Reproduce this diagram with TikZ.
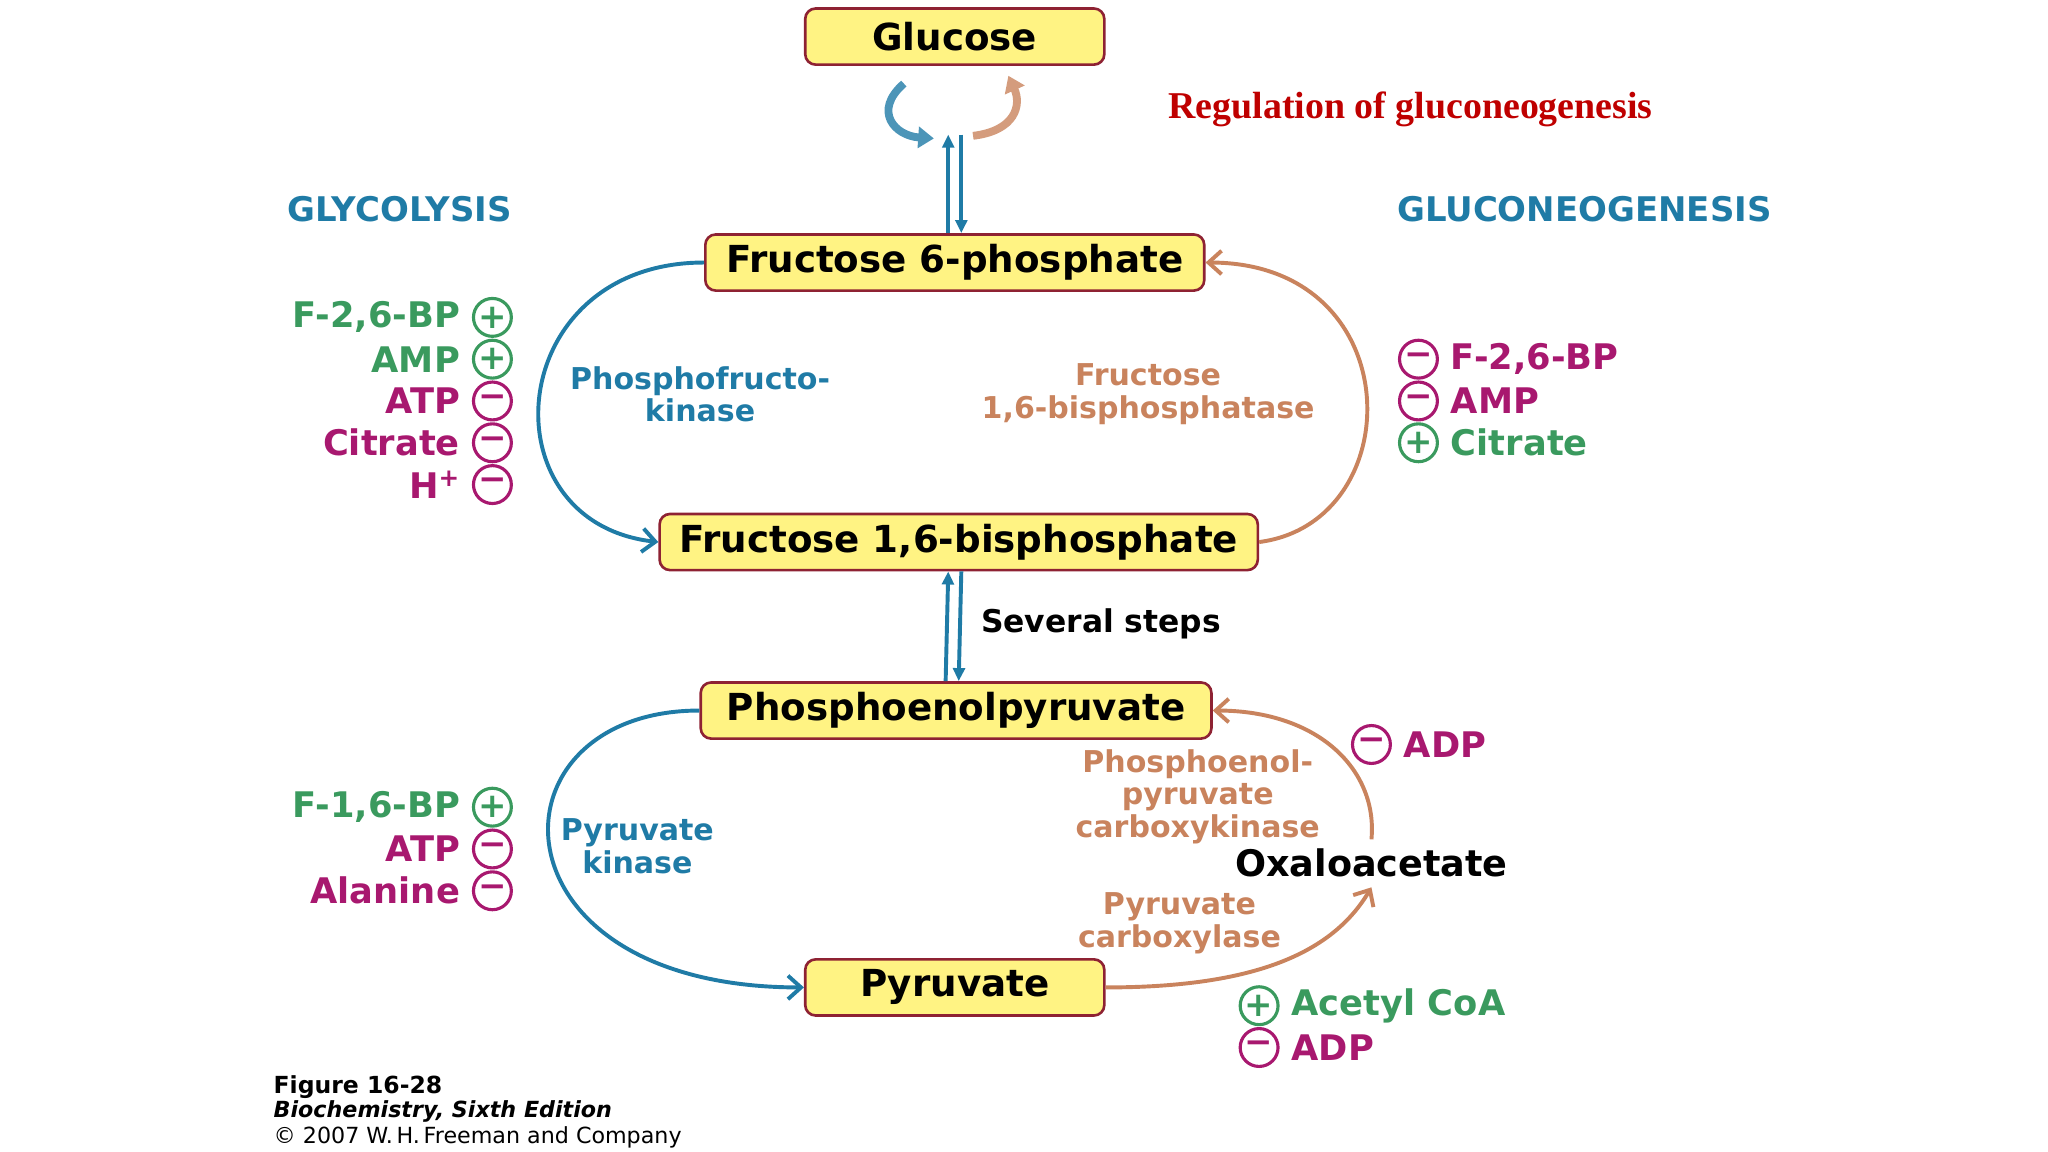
\documentclass[tikz,border=0pt]{standalone}
\usepackage{fontspec}
\setmainfont{DejaVu Sans}
\newfontfamily\titlefont{Liberation Serif}
\usepackage{tikz}
\usetikzlibrary{positioning,arrows.meta}
\definecolor{glyblue}{HTML}{1F7BA6}
\definecolor{regreen}{HTML}{3A9A5E}
\definecolor{regmag}{HTML}{A8186F}
\definecolor{gngbrown}{HTML}{C9835D}
\definecolor{boxfill}{HTML}{FFF383}
\definecolor{boxline}{HTML}{8E2233}
\tikzset{
  metab/.style={draw=boxline,line width=2pt,fill=boxfill,rounded corners=8pt,
    font=\fontsize{28.5}{30}\selectfont\bfseries,minimum height=43pt,inner xsep=10pt},
  enz/.style={font=\fontsize{23}{25}\selectfont\bfseries,align=center},
  reg/.style={font=\fontsize{27}{28}\selectfont\bfseries,inner sep=0pt},
  sgn/.style={circle,draw,line width=2.4pt,minimum size=29pt,inner sep=0pt,
    font=\fontsize{26}{26}\selectfont\bfseries},
  flow/.style={line width=3pt,-{Straight Barb[length=10pt,width=18pt]}},
  revstep/.style={line width=3pt,glyblue,-{Triangle[length=10pt,width=9pt]}},
}
\begin{document}
\begin{tikzpicture}[x=1pt,y=-1pt]
\useasboundingbox (0,0) rectangle (1568,882);
% metabolites
\node[metab,minimum width=229pt] (glc) at (731,28) {Glucose};
\node[metab,minimum width=382pt] (f6p) at (731,201) {Fructose 6-phosphate};
\node[metab,minimum width=458pt] (fbp) at (734,415) {Fructose 1,6-bisphosphate};
\node[metab,minimum width=391pt] (pep) at (732,544) {Phosphoenolpyruvate};
\node[metab,minimum width=229pt] (pyr) at (731,756) {Pyruvate};
\node[font=\fontsize{28}{30}\selectfont\bfseries] (oaa) at (1050,661) {Oxaloacetate};
% headings
\node[font=\fontsize{26}{28}\selectfont\bfseries,text=glyblue] (glyc) at (306,160) {GLYCOLYSIS};
\node[font=\fontsize{26}{28}\selectfont\bfseries,text=glyblue] (gng) at (1213,160) {GLUCONEOGENESIS};
\node[font=\titlefont\fontsize{29}{30}\selectfont\bfseries,text=red!75!black] (title) at (1080,84) {Regulation of gluconeogenesis};
% enzymes
\node[enz,text=glyblue] (pfk) at (536,302) {Phosphofructo-\\kinase};
\node[enz,text=gngbrown] (fbpase) at (879,302) {Fructose\\1,6-bisphosphatase};
\node[enz,text=glyblue] (pk) at (488,648) {Pyruvate\\kinase};
\node[enz,text=gngbrown] (pepck) at (917,610) {Phosphoenol-\\pyruvate\\carboxykinase};
\node[enz,text=gngbrown] (pc) at (903,707) {Pyruvate\\carboxylase};
\node[enz,font=\fontsize{24}{24}\selectfont\bfseries] (steps) at (843,478) {Several steps};
% regulators, left
\foreach \y/\txt/\col/\s in {243/F-2{,}6-BP/regreen/+,275/AMP/regreen/+,307/ATP/regmag/−,
  339/Citrate/regmag/−,371/H\textsuperscript{+}/regmag/−,618/F-1{,}6-BP/regreen/+,
  650/ATP/regmag/−,682/Alanine/regmag/−}{
  \node[sgn,draw=\col,text=\col] (s\y) at (377,\y) {\s};
  \node[reg,text=\col,left=9pt of s\y] (r\y) {\txt};
}
% regulators, right
\foreach \x/\y/\txt/\col/\s in {1086/275/F-2{,}6-BP/regmag/−,1086/307/AMP/regmag/−,
  1086/339/Citrate/regreen/+,1050/570/ADP/regmag/−,964/770/Acetyl CoA/regreen/+,
  964/802/ADP/regmag/−}{
  \node[sgn,draw=\col,text=\col] (t\y) at (\x,\y) {\s};
  \node[reg,text=\col,right=9pt of t\y] (q\y) {\txt};
}
% cycles
\draw[flow,glyblue] (f6p.west) .. controls (385,201) and (370,400) .. (fbp.west);
\draw[flow,gngbrown] (fbp.east) .. controls (1080,400) and (1080,201) .. (f6p.east);
\draw[flow,glyblue] (pep.west) .. controls (370,544) and (370,756) .. (pyr.west);
\draw[flow,gngbrown] (pyr.east) .. controls (960,756) and (1020,730) .. ([yshift=-4pt]oaa.south);
\draw[flow,gngbrown] ([yshift=4pt]oaa.north) .. controls (1055,590) and (1010,544) .. (pep.east);
% glucose / F6P
\coordinate (gtop) at (731,103);
\draw[revstep] ([xshift=-5pt]f6p.north) -- ([xshift=-5pt]gtop);
\draw[revstep] ([xshift=5pt]gtop) -- ([xshift=5pt]f6p.north);
\draw[line width=6pt,glyblue!80,-{Triangle[length=12pt,width=16pt]}] (692,64) .. controls (668,85) and (685,104) .. (715,106);
\draw[line width=6pt,gngbrown!80,-{Triangle[length=12pt,width=16pt]}] (745,104) .. controls (778,100) and (782,80) .. (772,58);
% double arrow between FBP and PEP
\draw[revstep] ([xshift=-8pt]pep.north) -- ([xshift=-8pt]fbp.south);
\draw[revstep] ([xshift=2pt]fbp.south) -- ([xshift=2pt]pep.north);
% caption
\node[anchor=west,font=\fontsize{18}{20}\selectfont\bfseries] (fig) at (206,832) {Figure 16-28};
\node[anchor=west,font=\fontsize{17}{20}\selectfont\bfseries\itshape] (book) at (206,851) {Biochemistry, Sixth Edition};
\node[anchor=west,font=\fontsize{17}{20}\selectfont] (copy) at (206,871) {© 2007 W.\,H.\,Freeman and Company};
\end{tikzpicture}
\end{document}
